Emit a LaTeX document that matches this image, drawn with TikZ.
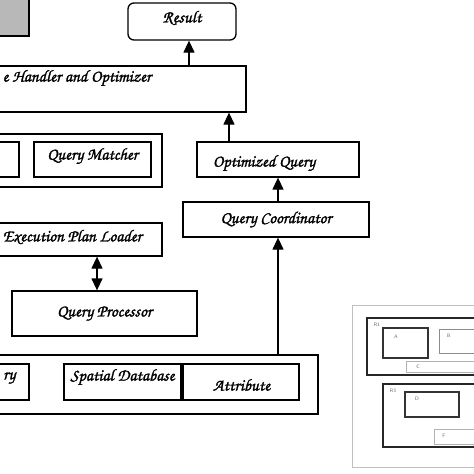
\documentclass[tikz,border=0pt]{standalone}
\usepackage{fontspec}
\usepackage{tikz}
\usetikzlibrary{arrows.meta}

\newfontfamily\chorusfont{texgyrechorus-mediumitalic.otf}[FakeBold=1.4]
\newcommand{\chancery}{\chorusfont\fontsize{17}{19}\selectfont}

\begin{document}
\begin{tikzpicture}[x=1pt, y=-1pt, >={Triangle[length=12pt,width=11pt]}, line width=1.3pt,
  box/.style={draw, rectangle, inner sep=0pt, font=\chancery},
  txt/.style={inner sep=0pt, font=\chancery},
  inset/.style={draw, rectangle, inner sep=0pt},
  tag/.style={font=\sffamily\fontsize{5}{5}\selectfont, text=black!60, inner sep=0pt}]
  \useasboundingbox (0,0) rectangle (474,474);
  \clip (0,0) rectangle (474,474);

  % top part
  \node[box, fill=black!28, minimum width=39pt, minimum height=46pt] (thumb) at (9.5,13) {};
  \node[box, rounded corners=6pt, minimum width=108pt, minimum height=37pt] (result) at (182,21.5) {};
  \node[txt] (resulttxt) at (182,18) {Result};
  \node[box, minimum width=256pt, minimum height=46pt] (handler) at (118,89) {};
  \node[txt, anchor=west] (handlertxt) at (2,78) {e Handler and Optimizer};

  % matcher group
  \node[box, minimum width=172pt, minimum height=53pt] (matchgrp) at (76,160.5) {};
  \node[box, minimum width=29pt, minimum height=35pt] (leftbox) at (4.5,159.5) {};
  \node[box, minimum width=117pt, minimum height=35pt] (matcher) at (92.5,159.5) {};
  \node[txt] (matchertxt) at (92.5,156) {Query Matcher};

  % right column
  \node[box, minimum width=162pt, minimum height=35pt] (optimized) at (278,159.5) {};
  \node[txt] (optimizedtxt) at (264,163) {Optimized Query};
  \node[box, minimum width=186pt, minimum height=35pt] (coordinator) at (276,219.5) {Query Coordinator};

  % loader and processor
  \node[box, minimum width=172pt, minimum height=33pt] (loader) at (76,239.5) {};
  \node[txt, anchor=west] (loadertxt) at (2,237) {Execution Plan Loader};
  \node[box, minimum width=185pt, minimum height=45pt] (processor) at (104.5,313.5) {Query Processor};

  % database group
  \node[box, minimum width=328pt, minimum height=59pt] (dbgrp) at (154,384.5) {};
  \node[box, minimum width=39pt, minimum height=36pt] (library) at (9.5,382) {};
  \node[txt, anchor=east] (librarytxt) at (16,378) {ry};
  \node[box, minimum width=117pt, minimum height=36pt] (spatial) at (122.5,382) {};
  \node[txt] (spatialtxt) at (122.5,377) {Spatial Database};
  \node[box, minimum width=116pt, minimum height=36pt] (attribute) at (241,382) {};
  \node[txt] (attributetxt) at (241.5,385) {Attribute};

  % arrows
  \coordinate (a1) at (189,0);
  \coordinate (a2) at (229,0);
  \coordinate (a3) at (97,0);
  \draw[->] (handler.north -| a1) -- (result.south -| a1);
  \draw[->] (optimized.north -| a2) -- (handler.south -| a2);
  \draw[->] (coordinator.north -| optimized) -- (optimized.south);
  \draw[->] (dbgrp.north -| optimized) -- (coordinator.south -| optimized);
  \draw[<->] (loader.south -| a3) -- (processor.north -| a3);

  % inset
  \node[inset, draw=black!25, line width=0.8pt, minimum width=128pt, minimum height=162pt] (frame) at (416,386) {};
  \node[inset, draw=black!85, line width=2pt, minimum width=113pt, minimum height=57pt] (r1) at (423.5,346.5) {};
  \node[inset, draw=black!80, line width=1.3pt, minimum width=45pt, minimum height=30pt] (ra) at (405.5,343) {};
  \node[inset, draw=black!45, line width=0.8pt, minimum width=41pt, minimum height=24pt] (rb) at (459.5,341) {};
  \node[inset, draw=black!30, line width=0.6pt, minimum width=74pt, minimum height=11pt] (rc) at (443,366.5) {};
  \node[inset, draw=black!85, line width=2pt, minimum width=97pt, minimum height=63pt] (r3) at (431.5,415.5) {};
  \node[inset, draw=black!80, line width=1.3pt, minimum width=54pt, minimum height=25pt] (rd) at (432,404.5) {};
  \node[inset, draw=black!30, line width=0.6pt, minimum width=46pt, minimum height=15pt] (rf) at (457,436.5) {};
  \node[tag] (r1tag) at (377,325) {R1};
  \node[tag] (atag) at (396,337) {A};
  \node[tag] (btag) at (449,336) {B};
  \node[tag] (ctag) at (418,367) {C};
  \node[tag] (r3tag) at (393,391) {R3};
  \node[tag] (dtag) at (417,399) {D};
  \node[tag] (ftag) at (444,436) {F};
\end{tikzpicture}
\end{document}
